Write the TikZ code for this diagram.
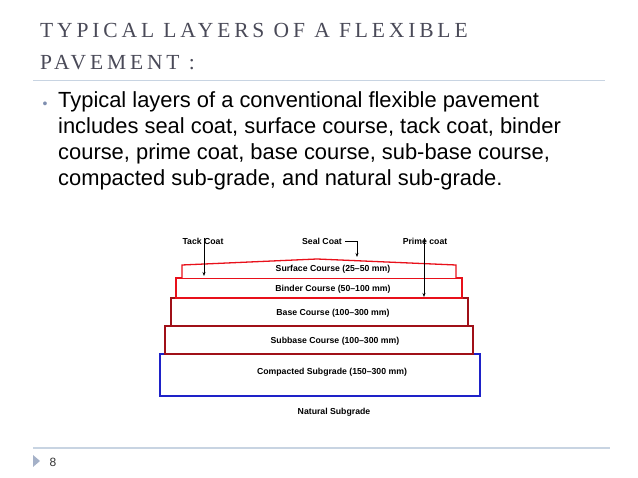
\documentclass[tikz,border=0pt]{standalone}
\usepackage{fontspec}
\setmainfont{Liberation Sans}
\newfontfamily\titlefont[LetterSpace=18]{Liberation Serif}
\usetikzlibrary{arrows.meta}
\definecolor{ttl}{HTML}{4A4A58}
\definecolor{sep}{HTML}{C8D4E2}
\definecolor{bul}{HTML}{7F8FB0}
\definecolor{lred}{HTML}{E8101A}
\definecolor{dred}{HTML}{A01018}
\definecolor{lblue}{HTML}{1E22C8}
\tikzset{
  layer/.style={line width=1.3pt,fill=white},
  lbl/.style={font=\fontsize{8.7}{9}\selectfont\bfseries,inner sep=0pt},
  body/.style={font=\fontsize{21.9}{26}\selectfont,anchor=north west,align=left,inner sep=0pt},
  ptr/.style={-{Stealth[length=4pt,width=3pt]},line width=0.6pt}
}
\begin{document}
\begin{tikzpicture}[x=1pt,y=-1pt]
\useasboundingbox (0,0) rectangle (638,478);
\node[anchor=base west,inner sep=0pt,text=ttl,font=\titlefont\fontsize{21.5}{22}\selectfont] (t1) at (40,38) {TYPICAL LAYERS OF A FLEXIBLE};
\node[anchor=base west,inner sep=0pt,text=ttl,font=\titlefont\fontsize{21.5}{22}\selectfont] (t2) at (40,70) {PAVEMENT :};
\draw[sep,line width=0.8pt] (33,80) -- (605,80);
\node[text=bul,font=\fontsize{14}{14}\selectfont,inner sep=0pt] (b) at (45,105) {\textbullet};
\node[body] (txt) at (58,91) {Typical layers of a conventional flexible pavement\\includes seal coat, surface course, tack coat, binder\\course, prime coat, base course, sub-base course,\\compacted sub-grade, and natural sub-grade.};
% layers
\draw[layer,draw=lblue] (160,354) rectangle (480,396);
\draw[layer,draw=dred] (165,326) rectangle (473,354);
\draw[layer,draw=dred] (171,298) rectangle (468,326);
\draw[layer,draw=lred] (176,278) rectangle (462,298);
\draw[layer,draw=lred] (182,278) -- (182,265) -- (317,259) -- (456,265) -- (456,278);
\node[lbl] (sc) at (333,269) {Surface Course (25--50 mm)};
\node[lbl] (bc) at (333,289) {Binder Course (50--100 mm)};
\node[lbl] (ba) at (333,313) {Base Course (100--300 mm)};
\node[lbl] (sb) at (335,341) {Subbase Course (100--300 mm)};
\node[lbl] (cs) at (332,372) {Compacted Subgrade (150--300 mm)};
\node[lbl] (ns) at (334,412) {Natural Subgrade};
\node[lbl] (tc) at (203,241) {Tack Coat};
\node[lbl] (sl) at (322,241) {Seal Coat};
\node[lbl] (pc) at (425,241) {Prime coat};
\coordinate (tce) at (204,276);
\coordinate (pce) at (424,297);
\coordinate (slk) at (357,241);
\coordinate (sle) at (357,257);
\draw[ptr] (204,238) -- (tce);
\draw[ptr] (424,238) -- (pce);
\draw[ptr] (sl.east) ++(3,0) -- (slk) -- (sle);
% footer
\draw[sep,line width=1.2pt] (33,448) -- (610,448);
\fill[bul!70] (33,455) -- (40,461) -- (33,467) -- cycle;
\node[font=\fontsize{12}{12}\selectfont,text=black!80,inner sep=0pt] (pg) at (53,462) {8};
\end{tikzpicture}
\end{document}
